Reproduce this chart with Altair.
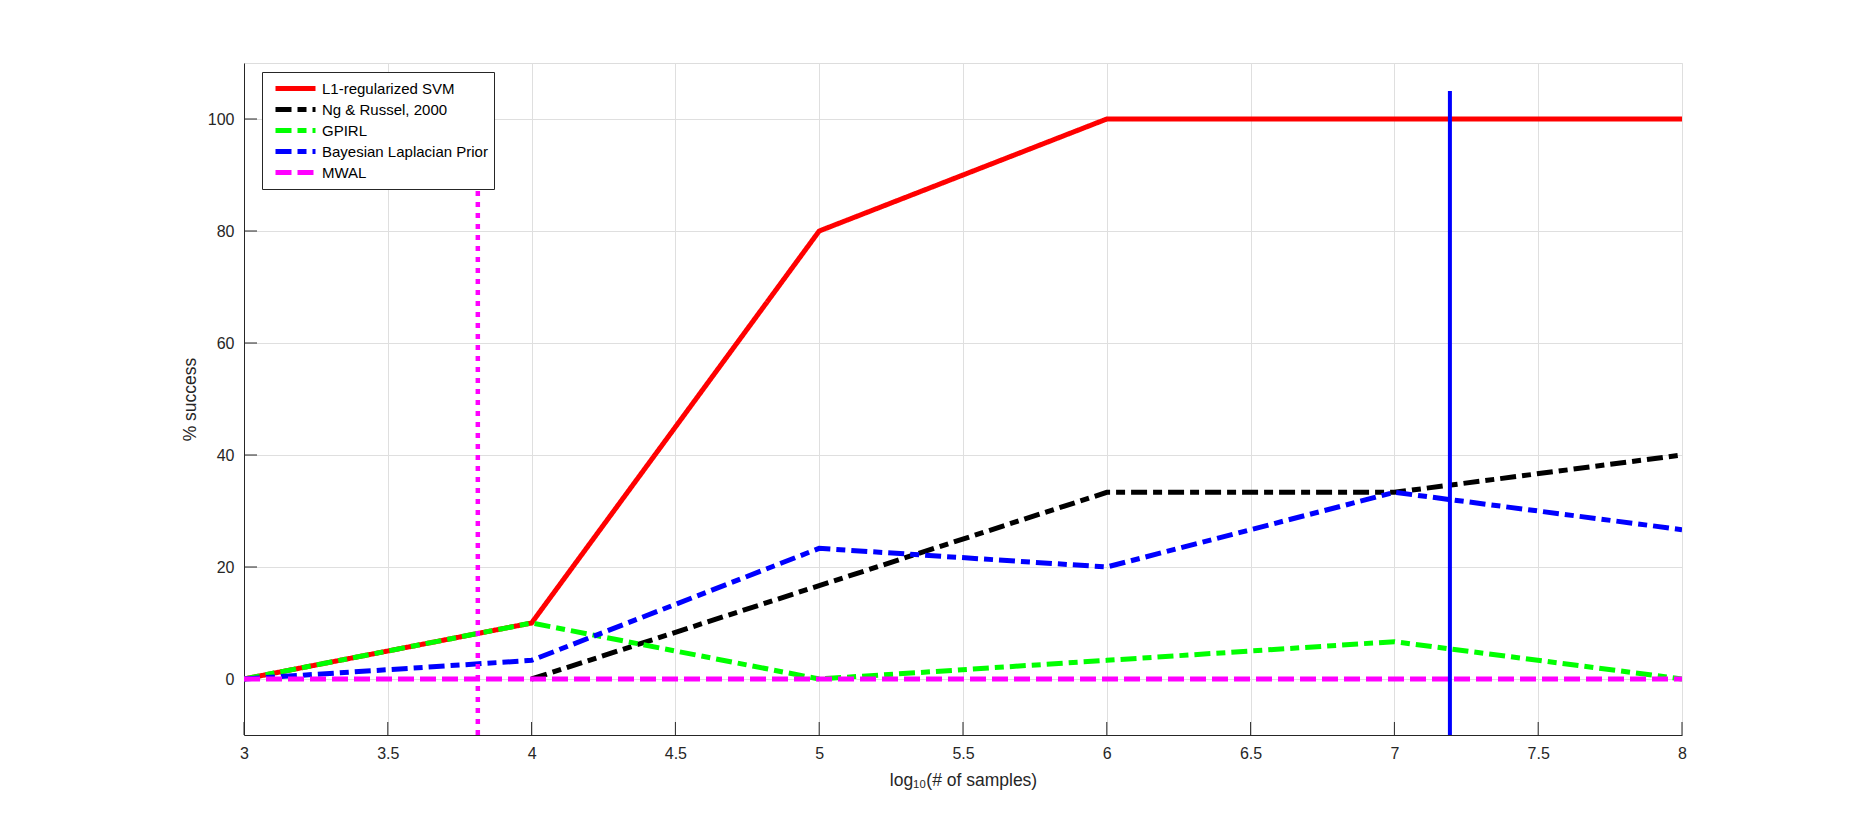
import altair as alt
import pandas as pd

# ---- data ----
x_vals = [3, 4, 5, 6, 7, 8]
series_names = ["L1-regularized SVM", "Ng & Russel, 2000", "GPIRL",
                "Bayesian Laplacian Prior", "MWAL"]
svm = [0, 10, 80, 100, 100, 100]
ng = [None, 0, 16.67, 33.33, 33.33, 40]
gpirl = [0, 10, 0, 3.33, 6.67, 0]
bayes = [0, 3.33, 23.33, 20, 33.33, 26.67]
mwal = [0, 0, 0, 0, 0, 0]
series_values = [svm, ng, gpirl, bayes, mwal]

# vertical reference lines
vline_x = [3.813, 7.193]
vline_bottom = [-10, -10]
vline_top = [105, 105]

x_ticks = [3, 3.5, 4, 4.5, 5, 5.5, 6, 6.5, 7, 7.5, 8]
y_ticks = [0, 20, 40, 60, 80, 100]

# ---- styles ----
colors = ["#ff0000", "#000000", "#00ff00", "#0000ff", "#ff00ff"]
dashes = [[1, 0], [16, 6, 9, 6], [16, 6, 9, 6], [16, 6, 9, 6], [16, 6]]
vline_colors = ["#ff00ff", "#0000ff"]
FONT = "Liberation Sans"
AXC = "#262626"
W, H = 1438, 672

rows = []
for name, vals in zip(series_names, series_values):
    for xv, yv in zip(x_vals, vals):
        if yv is not None:
            rows.append({"x": xv, "y": yv, "series": name})
df = pd.DataFrame(rows)

xscale = alt.Scale(domain=[3, 8], nice=False, zero=False)
yscale = alt.Scale(domain=[-10, 110], nice=False, zero=False)
xaxis = alt.Axis(values=x_ticks, format="~g", title="log₁₀(# of samples)", grid=True,
                 gridColor="#dfdfdf", ticks=False, domainColor=AXC,
                 labelColor=AXC, labelFont=FONT, labelFontSize=16,
                 labelPadding=10, titleFont=FONT, titleFontSize=17.5,
                 titleFontWeight="normal", titleColor=AXC, titlePadding=10,
                 labelFlush=False)
yaxis = alt.Axis(values=y_ticks, format="d", title="% success", grid=True,
                 gridColor="#dfdfdf", ticks=False, domainColor=AXC,
                 labelColor=AXC, labelFont=FONT, labelFontSize=16,
                 labelPadding=10, titleFont=FONT, titleFontSize=17.5,
                 titleFontWeight="normal", titleColor=AXC, titlePadding=8)


def X():
    return alt.X("x:Q", scale=xscale, axis=xaxis)


def Y():
    return alt.Y("y:Q", scale=yscale, axis=yaxis)


legend = alt.Legend(title=None, orient="none", legendX=18, legendY=9,
                    symbolType="M-2.5,0H2.5", symbolSize=256, symbolStrokeWidth=5,
                    symbolOffset=17, labelOffset=16,
                    labelFont=FONT, labelFontSize=15, labelColor="#000000",
                    strokeColor=AXC, fillColor="#ffffff", padding=6,
                    rowPadding=-3, labelLimit=400)

color_enc = alt.Color("series:N", scale=alt.Scale(domain=series_names, range=colors),
                      legend=legend, sort=series_names)
dash_enc = alt.StrokeDash("series:N", scale=alt.Scale(domain=series_names, range=dashes),
                          legend=legend, sort=series_names)

layers = []
# x ticks (inward)
layers.append(
    alt.Chart(pd.DataFrame({"x": x_ticks})).mark_rule(color=AXC, strokeWidth=1)
    .encode(x=X(), y=alt.value(H), y2=alt.value(H - 13))
)
# y ticks (inward)
layers.append(
    alt.Chart(pd.DataFrame({"y": y_ticks})).mark_rule(color=AXC, strokeWidth=1)
    .encode(y=Y(), x=alt.value(0), x2=alt.value(13))
)

for name in series_names:
    layers.append(
        alt.Chart(df[df["series"] == name]).mark_line(strokeWidth=5, clip=True)
        .encode(x=X(), y=Y(), color=color_enc, strokeDash=dash_enc)
    )

vdf = pd.DataFrame({"x": vline_x, "y": vline_bottom, "y2": vline_top, "c": vline_colors})
layers.append(
    alt.Chart(vdf.iloc[[0]]).mark_rule(strokeWidth=4.5, strokeDash=[5, 6], color=vline_colors[0])
    .encode(x=X(), y=Y(), y2="y2:Q")
)
layers.append(
    alt.Chart(vdf.iloc[[1]]).mark_rule(strokeWidth=4, color=vline_colors[1])
    .encode(x=X(), y=Y(), y2="y2:Q")
)

chart = alt.layer(*layers).properties(
    width=W, height=H,
    autosize=alt.AutoSizeParams(type="none"),
    padding={"left": 236, "top": 55, "right": 30, "bottom": 80},
).configure_view(stroke=None).configure(background="#ffffff")

chart.save("out.html", embed_options={"renderer": "svg", "actions": False})
